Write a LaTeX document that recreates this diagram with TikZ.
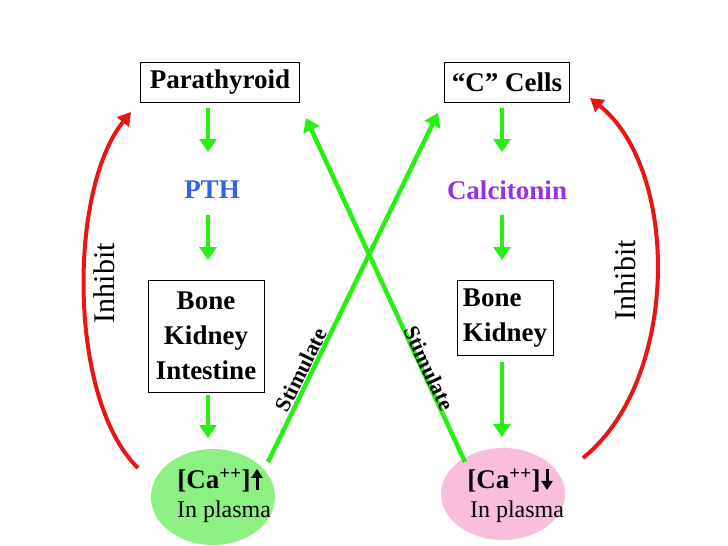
\documentclass[tikz,border=0pt]{standalone}
\usepackage{fontspec}
\setmainfont{Liberation Serif}
\usetikzlibrary{arrows.meta,shapes.geometric}
\definecolor{grn}{RGB}{40,240,20}
\definecolor{rd}{RGB}{235,20,20}
\definecolor{pthblue}{RGB}{50,100,230}
\definecolor{calc}{RGB}{150,50,230}
\definecolor{lgreen}{RGB}{140,240,130}
\definecolor{lpink}{RGB}{248,190,220}
\begin{document}
\begin{tikzpicture}[x=1pt,y=-1pt,
  every node/.style={font=\fontsize{27}{32}\selectfont\bfseries},
  box/.style={draw,thick,inner sep=3pt,align=center},
  garr/.style={grn,line width=4.5pt,-{Triangle[length=13pt,width=17pt]}},
  rarr/.style={rd,line width=4pt,-{Triangle[length=13pt,width=15pt]}},
  lbl/.style={font=\fontsize{30}{34}\selectfont},
  stim/.style={font=\fontsize{22}{24}\selectfont\bfseries,inner sep=0pt}]
\useasboundingbox (0,0) rectangle (728,546);
\node[box,minimum width=159pt,minimum height=40pt] (par) at (220,82) {Parathyroid};
\node[box,minimum width=125pt,minimum height=40pt] (cc) at (507,82) {“C” Cells};
\node[text=pthblue] (pth) at (212,190) {PTH};
\node[text=calc] (cal) at (507,190) {Calcitonin};
\node[box,minimum width=116pt,minimum height=112pt,font=\fontsize{27}{35}\selectfont\bfseries] (bki) at (206,336) {Bone\\Kidney\\Intestine};
\node[box,minimum width=96pt,minimum height=75pt,font=\fontsize{27}{35}\selectfont\bfseries,align=left] (bk) at (505,318) {Bone\\Kidney};
\node[ellipse,fill=lgreen,minimum width=124pt,minimum height=96pt,draw=none] (ca1) at (213,497) {};
\node[ellipse,fill=lpink,minimum width=124pt,minimum height=92pt,draw=none] (ca2) at (503,494) {};
\node (t1) at (220,480) {[Ca\textsuperscript{++}]\kern1pt\tikz[baseline=0pt,x=1pt,y=1pt]\draw[line width=3pt,-{Triangle[length=9pt,width=11pt]}] (0,-1)--(0,20);};
\node[font=\fontsize{24}{28}\selectfont] (p1) at (224,512) {In plasma};
\node (t2) at (510,480) {[Ca\textsuperscript{++}]\kern1pt\tikz[baseline=0pt,x=1pt,y=1pt]\draw[line width=3pt,-{Triangle[length=9pt,width=11pt]}] (0,20)--(0,-1);};
\node[font=\fontsize{24}{28}\selectfont] (p2) at (517,512) {In plasma};
\coordinate (a1) at (208,108); \coordinate (a2) at (208,152);
\coordinate (a3) at (208,215); \coordinate (a4) at (208,260);
\coordinate (a5) at (208,395); \coordinate (a6) at (208,438);
\draw[garr] (a1) -- (a2); \draw[garr] (a3) -- (a4); \draw[garr] (a5) -- (a6);
\coordinate (b1) at (502,108); \coordinate (b2) at (502,152);
\coordinate (b3) at (502,215); \coordinate (b4) at (502,260);
\coordinate (b5) at (502,362); \coordinate (b6) at (502,437);
\draw[garr] (b1) -- (b2); \draw[garr] (b3) -- (b4); \draw[garr] (b5) -- (b6);
\coordinate (c1) at (268,462); \coordinate (c2) at (438,113);
\coordinate (d1) at (465,462); \coordinate (d2) at (306,118);
\draw[garr] (c1) -- (c2);
\draw[garr] (d1) -- (d2);
\node[stim,rotate=64] (s1) at (301,370) {Stimulate};
\node[stim,rotate=-65] (s2) at (429,368) {Stimulate};
\coordinate (r1) at (138,468); \coordinate (r2) at (131,112);
\coordinate (q1) at (583,458); \coordinate (q2) at (590,98);
\draw[rarr] (r1) .. controls (68,400) and (68,190) .. (r2);
\draw[rarr] (q1) .. controls (680,380) and (680,170) .. (q2);
\node[lbl,rotate=90] (i1) at (104,283) {Inhibit};
\node[lbl,rotate=90] (i2) at (625,280) {Inhibit};
\end{tikzpicture}
\end{document}
